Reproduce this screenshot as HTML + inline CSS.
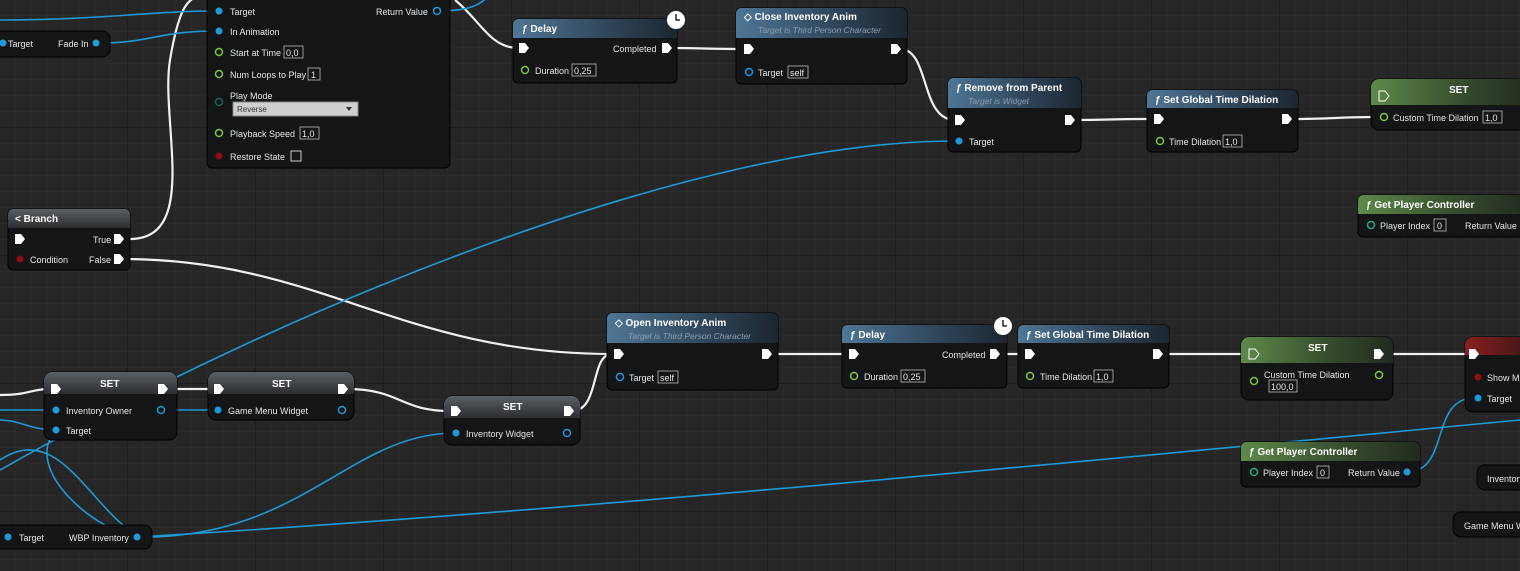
<!DOCTYPE html>
<html><head><meta charset="utf-8"><style>
html,body{margin:0;padding:0;background:#262626;}
svg{display:block;font-family:"Liberation Sans",sans-serif;}
.t{fill:#e6e6e6;font-size:9px;}
.h{fill:#fff;font-size:10px;font-weight:bold;}
.s{fill:#8aa0b4;font-size:8.5px;font-style:italic;}
.n{fill:#141516;stroke:#000;stroke-width:1;}
.ex{stroke:#f0f0f0;stroke-width:2.2;fill:none;}
.bl{stroke:#1e9ad6;stroke-width:1.6;fill:none;}
.box{fill:none;stroke:#bbb;stroke-width:0.8;}
</style></head><body>
<svg width="1520" height="571" viewBox="0 0 1520 571" xmlns="http://www.w3.org/2000/svg">
<defs>
<pattern id="g1" width="16" height="16" patternUnits="userSpaceOnUse"><path d="M16 0V16H0" fill="none" stroke="#2f2f2f" stroke-width="1"/></pattern>
<pattern id="g2" width="128" height="128" patternUnits="userSpaceOnUse"><path d="M128 0V128H0" fill="none" stroke="#1a1a1a" stroke-width="1.2"/></pattern>
<linearGradient id="hb" x1="0" x2="1"><stop offset="0" stop-color="#4f7696"/><stop offset="0.6" stop-color="#2e4458"/><stop offset="1" stop-color="#1c2630"/></linearGradient>
<linearGradient id="hg" x1="0" x2="1"><stop offset="0" stop-color="#5d8a4a"/><stop offset="0.6" stop-color="#354a2c"/><stop offset="1" stop-color="#222a20"/></linearGradient>
<linearGradient id="hs" x1="0" x2="0" y1="0" y2="1"><stop offset="0" stop-color="#5a5f64"/><stop offset="1" stop-color="#2b2e31"/></linearGradient>
<linearGradient id="hr" x1="0" x2="1"><stop offset="0" stop-color="#8a2020"/><stop offset="1" stop-color="#3a1414"/></linearGradient>
</defs>
<rect width="1520" height="571" fill="#262626"/>
<rect width="1520" height="571" fill="url(#g1)"/>
<rect width="1520" height="571" fill="url(#g2)"/>

<g class="ex">
<path d="M130 239C200 239 160 120 170 60S190 0 200 -5"/>
<path d="M455 0C480 20 490 48 518 48"/>
<path d="M670 48C700 48 710 49 745 49"/>
<path d="M900 49C930 49 920 120 955 120"/>
<path d="M1074 120C1110 120 1110 119 1153 119"/>
<path d="M1291 119C1330 119 1340 117 1376 117"/>
<path d="M122 259C320 259 400 354 612 354"/>
<path d="M0 395C30 395 30 389 50 389"/>
<path d="M170 389C190 389 190 389 212 389"/>
<path d="M347 389C400 389 400 411 450 411"/>
<path d="M572 411C600 411 590 354 612 354"/>
<path d="M770 354C800 354 810 354 848 354"/>
<path d="M998 354C1010 354 1012 354 1023 354"/>
<path d="M1160 354C1200 354 1210 354 1247 354"/>
<path d="M1386 354C1420 354 1440 354 1470 354"/>
</g>
<g class="bl">
<path d="M100 43C150 43 160 31 215 31"/>
<path d="M0 20C100 20 150 11 215 11"/>
<path d="M437 11C470 11 480 5 490 -5"/>
<path d="M0 470C300 300 700 141 955 141"/>
<path d="M0 410C30 410 30 410 56 410"/>
<path d="M160 410C190 410 190 410 215 410"/>
<path d="M0 420C20 420 30 430 56 430"/>
<path d="M56 430C20 470 100 535 140 537"/>
<path d="M137 537C300 540 350 433 455 433"/>
<path d="M137 537C600 510 1200 450 1520 420"/>
<path d="M1407 472C1450 472 1430 398 1474 398"/>
<path d="M0 460C60 420 90 510 140 537"/>
</g>

<rect class="n" x="207" y="-10" width="243" height="178" rx="5"/>
<g class="t">
<circle cx="219" cy="11" r="3.5" fill="#1e9ad6"/><text x="230" y="15">Target</text>
<circle cx="219" cy="31" r="3.5" fill="#1e9ad6"/><text x="230" y="35">In Animation</text>
<circle cx="219" cy="52" r="3.5" fill="none" stroke="#7dc53a" stroke-width="1.5"/><text x="230" y="56">Start at Time</text><rect class="box" x="284" y="46" width="19" height="12"/><text x="286" y="56">0,0</text>
<circle cx="219" cy="74" r="3.5" fill="none" stroke="#7dc53a" stroke-width="1.5"/><text x="230" y="78">Num Loops to Play</text><rect class="box" x="308" y="68" width="12" height="12"/><text x="311" y="78">1</text>
<circle cx="219" cy="102" r="3.5" fill="none" stroke="#1f5f58" stroke-width="1.5"/><text x="230" y="99">Play Mode</text>
<rect x="233" y="102" width="125" height="14" fill="#cfcfcf" stroke="#888"/><text x="237" y="112" style="fill:#333;font-size:8px">Reverse</text><path d="M346 107l6 0-3 4z" fill="#333"/>
<circle cx="219" cy="133" r="3.5" fill="none" stroke="#7dc53a" stroke-width="1.5"/><text x="230" y="137">Playback Speed</text><rect class="box" x="300" y="127" width="19" height="12"/><text x="302" y="137">1,0</text>
<circle cx="219" cy="156" r="3.5" fill="#8b1010"/><text x="230" y="160">Restore State</text><rect x="291" y="151" width="10" height="10" fill="none" stroke="#ccc"/>
<text x="376" y="15">Return Value</text><circle cx="437" cy="11" r="3.5" fill="none" stroke="#1e9ad6" stroke-width="1.5"/>
</g>

<rect class="n" x="-10" y="31" width="120" height="26" rx="8" fill="#1b1d1f"/>
<g class="t"><circle cx="3" cy="43" r="3.5" fill="#1e9ad6"/><text x="8" y="47">Target</text><text x="58" y="47">Fade In</text><circle cx="96" cy="43" r="3.5" fill="#1e9ad6"/></g>

<rect class="n" x="513" y="19" width="164" height="64" rx="5"/>
<path d="M513 24a5 5 0 0 1 5-5h154a5 5 0 0 1 5 5v14h-164z" fill="url(#hb)"/>
<text class="h" x="522" y="32">ƒ Delay</text>
<circle cx="676" cy="20" r="9" fill="#fff"/><path d="M676 14v6h4" stroke="#000" stroke-width="1.3" fill="none"/>
<g class="t"><path d="M519 43h6l4 5-4 5h-6z" fill="#fff"/><text x="613" y="52">Completed</text><path d="M662 43h6l4 5-4 5h-6z" fill="#fff"/>
<circle cx="525" cy="70" r="3.5" fill="none" stroke="#7dc53a" stroke-width="1.5"/><text x="535" y="74">Duration</text><rect class="box" x="572" y="64" width="24" height="12"/><text x="574" y="74">0,25</text></g>

<rect class="n" x="736" y="8" width="171" height="76" rx="5"/>
<path d="M736 13a5 5 0 0 1 5-5h161a5 5 0 0 1 5 5v25h-171z" fill="url(#hb)"/>
<text class="h" x="744" y="20">◇ Close Inventory Anim</text><text class="s" x="758" y="33">Target is Third Person Character</text>
<g class="t"><path d="M744 44h6l4 5-4 5h-6z" fill="#fff"/><path d="M891 44h6l4 5-4 5h-6z" fill="#fff"/>
<circle cx="749" cy="72" r="3.5" fill="none" stroke="#1e9ad6" stroke-width="1.5"/><text x="758" y="76">Target</text><rect class="box" x="788" y="66" width="20" height="12"/><text x="790" y="76">self</text></g>

<rect class="n" x="948" y="78" width="133" height="74" rx="5"/>
<path d="M948 83a5 5 0 0 1 5-5h123a5 5 0 0 1 5 5v25h-133z" fill="url(#hb)"/>
<text class="h" x="956" y="91">ƒ Remove from Parent</text><text class="s" x="968" y="104">Target is Widget</text>
<g class="t"><path d="M955 115h6l4 5-4 5h-6z" fill="#fff"/><path d="M1065 115h6l4 5-4 5h-6z" fill="#fff"/>
<circle cx="959" cy="141" r="3.5" fill="#1e9ad6"/><text x="969" y="145">Target</text></g>

<rect class="n" x="1147" y="90" width="151" height="62" rx="5"/>
<path d="M1147 95a5 5 0 0 1 5-5h141a5 5 0 0 1 5 5v13h-151z" fill="url(#hb)"/>
<text class="h" x="1155" y="103">ƒ Set Global Time Dilation</text>
<g class="t"><path d="M1154 114h6l4 5-4 5h-6z" fill="#fff"/><path d="M1282 114h6l4 5-4 5h-6z" fill="#fff"/>
<circle cx="1160" cy="141" r="3.5" fill="none" stroke="#7dc53a" stroke-width="1.5"/><text x="1169" y="145">Time Dilation</text><rect class="box" x="1223" y="135" width="19" height="12"/><text x="1225" y="145">1,0</text></g>

<rect class="n" x="1371" y="79" width="160" height="51" rx="8"/>
<path d="M1371 87a8 8 0 0 1 8-8h150v26h-158z" fill="url(#hg)"/>
<text class="h" x="1449" y="93">SET</text>
<g class="t"><path d="M1379 91h6l4 5-4 5h-6z" fill="none" stroke="#fff"/>
<circle cx="1384" cy="117" r="3.5" fill="none" stroke="#7dc53a" stroke-width="1.5"/><text x="1393" y="121">Custom Time Dilation</text><rect class="box" x="1483" y="111" width="19" height="12"/><text x="1485" y="121">1,0</text></g>

<rect class="n" x="1358" y="195" width="170" height="42" rx="5"/>
<path d="M1358 200a5 5 0 0 1 5-5h165v19h-170z" fill="url(#hg)"/>
<text class="h" x="1366" y="208">ƒ Get Player Controller</text>
<g class="t"><circle cx="1371" cy="225" r="3.5" fill="none" stroke="#1faa8a" stroke-width="1.5"/><text x="1380" y="229">Player Index</text><rect class="box" x="1434" y="219" width="12" height="12"/><text x="1437" y="229">0</text><text x="1465" y="229">Return Value</text></g>

<rect class="n" x="8" y="209" width="122" height="61" rx="5"/>
<path d="M8 214a5 5 0 0 1 5-5h112a5 5 0 0 1 5 5v14h-122z" fill="url(#hs)"/>
<text class="h" x="15" y="222">&lt; Branch</text>
<g class="t"><path d="M15 234h6l4 5-4 5h-6z" fill="#fff"/><text x="93" y="243">True</text><path d="M114 234h6l4 5-4 5h-6z" fill="#fff"/>
<circle cx="20" cy="259" r="3.5" fill="#8b1010"/><text x="30" y="263">Condition</text><text x="89" y="263">False</text><path d="M114 254h6l4 5-4 5h-6z" fill="#fff"/></g>

<rect class="n" x="44" y="372" width="133" height="68" rx="8"/>
<path d="M44 380a8 8 0 0 1 8-8h117a8 8 0 0 1 8 8v14h-133z" fill="url(#hs)"/>
<text class="h" x="100" y="387">SET</text>
<g class="t"><path d="M51 384h6l4 5-4 5h-6z" fill="#fff"/><path d="M158 384h6l4 5-4 5h-6z" fill="#fff"/>
<circle cx="56" cy="410" r="3.5" fill="#1e9ad6"/><text x="66" y="414">Inventory Owner</text><circle cx="161" cy="410" r="3.5" fill="none" stroke="#1e9ad6" stroke-width="1.5"/>
<circle cx="56" cy="430" r="3.5" fill="#1e9ad6"/><text x="66" y="434">Target</text></g>

<rect class="n" x="208" y="372" width="146" height="48" rx="8"/>
<path d="M208 380a8 8 0 0 1 8-8h130a8 8 0 0 1 8 8v14h-146z" fill="url(#hs)"/>
<text class="h" x="272" y="387">SET</text>
<g class="t"><path d="M214 384h6l4 5-4 5h-6z" fill="#fff"/><path d="M338 384h6l4 5-4 5h-6z" fill="#fff"/>
<circle cx="218" cy="410" r="3.5" fill="#1e9ad6"/><text x="228" y="414">Game Menu Widget</text><circle cx="342" cy="410" r="3.5" fill="none" stroke="#1e9ad6" stroke-width="1.5"/></g>

<rect class="n" x="444" y="396" width="136" height="49" rx="8"/>
<path d="M444 404a8 8 0 0 1 8-8h120a8 8 0 0 1 8 8v14h-136z" fill="url(#hs)"/>
<text class="h" x="503" y="410">SET</text>
<g class="t"><path d="M451 406h6l4 5-4 5h-6z" fill="#fff"/><path d="M564 406h6l4 5-4 5h-6z" fill="#fff"/>
<circle cx="456" cy="433" r="3.5" fill="#1e9ad6"/><text x="466" y="437">Inventory Widget</text><circle cx="567" cy="433" r="3.5" fill="none" stroke="#1e9ad6" stroke-width="1.5"/></g>

<rect class="n" x="607" y="313" width="171" height="77" rx="5"/>
<path d="M607 318a5 5 0 0 1 5-5h161a5 5 0 0 1 5 5v25h-171z" fill="url(#hb)"/>
<text class="h" x="615" y="326">◇ Open Inventory Anim</text><text class="s" x="628" y="339">Target is Third Person Character</text>
<g class="t"><path d="M614 349h6l4 5-4 5h-6z" fill="#fff"/><path d="M762 349h6l4 5-4 5h-6z" fill="#fff"/>
<circle cx="620" cy="377" r="3.5" fill="none" stroke="#1e9ad6" stroke-width="1.5"/><text x="629" y="381">Target</text><rect class="box" x="658" y="371" width="20" height="12"/><text x="660" y="381">self</text></g>

<rect class="n" x="842" y="325" width="165" height="63" rx="5"/>
<path d="M842 330a5 5 0 0 1 5-5h155a5 5 0 0 1 5 5v13h-165z" fill="url(#hb)"/>
<text class="h" x="850" y="338">ƒ Delay</text>
<circle cx="1003" cy="326" r="9" fill="#fff"/><path d="M1003 320v6h4" stroke="#000" stroke-width="1.3" fill="none"/>
<g class="t"><path d="M849 349h6l4 5-4 5h-6z" fill="#fff"/><text x="942" y="358">Completed</text><path d="M990 349h6l4 5-4 5h-6z" fill="#fff"/>
<circle cx="854" cy="376" r="3.5" fill="none" stroke="#7dc53a" stroke-width="1.5"/><text x="864" y="380">Duration</text><rect class="box" x="901" y="370" width="24" height="12"/><text x="903" y="380">0,25</text></g>

<rect class="n" x="1018" y="325" width="151" height="63" rx="5"/>
<path d="M1018 330a5 5 0 0 1 5-5h141a5 5 0 0 1 5 5v13h-151z" fill="url(#hb)"/>
<text class="h" x="1026" y="338">ƒ Set Global Time Dilation</text>
<g class="t"><path d="M1025 349h6l4 5-4 5h-6z" fill="#fff"/><path d="M1153 349h6l4 5-4 5h-6z" fill="#fff"/>
<circle cx="1030" cy="376" r="3.5" fill="none" stroke="#7dc53a" stroke-width="1.5"/><text x="1040" y="380">Time Dilation</text><rect class="box" x="1094" y="370" width="19" height="12"/><text x="1096" y="380">1,0</text></g>

<rect class="n" x="1241" y="337" width="152" height="63" rx="8"/>
<path d="M1241 345a8 8 0 0 1 8-8h136a8 8 0 0 1 8 8v18h-152z" fill="url(#hg)"/>
<text class="h" x="1308" y="351">SET</text>
<g class="t"><path d="M1249 349h6l4 5-4 5h-6z" fill="none" stroke="#fff"/><path d="M1374 349h6l4 5-4 5h-6z" fill="#fff"/>
<circle cx="1254" cy="381" r="3.5" fill="none" stroke="#7dc53a" stroke-width="1.5"/><text x="1264" y="378">Custom Time Dilation</text><circle cx="1379" cy="375" r="3.5" fill="none" stroke="#7dc53a" stroke-width="1.5"/>
<rect class="box" x="1269" y="380" width="28" height="12"/><text x="1271" y="390">100,0</text></g>

<rect class="n" x="1465" y="337" width="70" height="75" rx="8"/>
<path d="M1465 345a8 8 0 0 1 8-8h62v18h-70z" fill="url(#hr)"/>
<g class="t"><path d="M1469 349h6l4 5-4 5h-6z" fill="#fff"/>
<circle cx="1478" cy="377" r="3.5" fill="#8b1010"/><text x="1487" y="381">Show M</text>
<circle cx="1478" cy="398" r="3.5" fill="#1e9ad6"/><text x="1487" y="402">Target</text></g>

<rect class="n" x="1241" y="442" width="179" height="45" rx="5"/>
<path d="M1241 447a5 5 0 0 1 5-5h169a5 5 0 0 1 5 5v14h-179z" fill="url(#hg)"/>
<text class="h" x="1249" y="455">ƒ Get Player Controller</text>
<g class="t"><circle cx="1254" cy="472" r="3.5" fill="none" stroke="#1faa8a" stroke-width="1.5"/><text x="1263" y="476">Player Index</text><rect class="box" x="1317" y="466" width="12" height="12"/><text x="1320" y="476">0</text><text x="1348" y="476">Return Value</text><circle cx="1407" cy="472" r="3.5" fill="#1e9ad6"/></g>

<rect class="n" x="1477" y="465" width="60" height="25" rx="8" fill="#1b1d1f"/><text class="t" x="1487" y="482">Inventory</text>
<rect class="n" x="1453" y="512" width="80" height="25" rx="8" fill="#1b1d1f"/><text class="t" x="1464" y="529">Game Menu W</text>

<rect class="n" x="-10" y="525" width="162" height="24" rx="8" fill="#1b1d1f"/>
<g class="t"><circle cx="8" cy="537" r="3.5" fill="#1e9ad6"/><text x="19" y="541">Target</text><text x="69" y="541">WBP Inventory</text><circle cx="137" cy="537" r="3.5" fill="#1e9ad6"/></g>
</svg>
</body></html>
